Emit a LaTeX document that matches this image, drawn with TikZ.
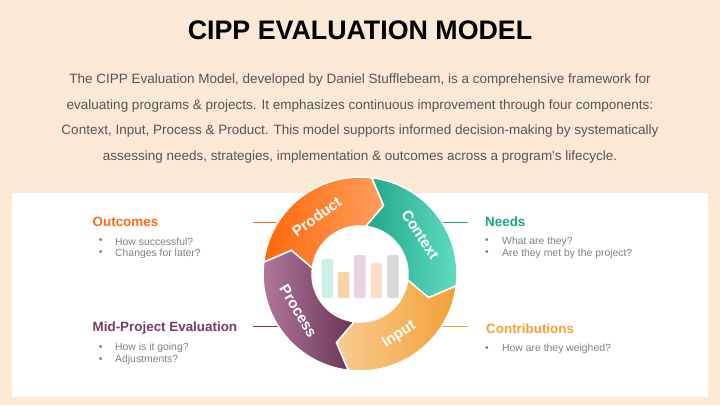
\documentclass[tikz,border=0pt]{standalone}
\usepackage{fontspec}
\setmainfont{Liberation Sans}
\definecolor{bg}{HTML}{FCE9D5}
\definecolor{paratext}{HTML}{555555}
\definecolor{bullettext}{HTML}{808080}
\definecolor{cOut}{HTML}{FF6A13}
\definecolor{cNeed}{HTML}{1AA585}
\definecolor{cMid}{HTML}{7A3A62}
\definecolor{cCon}{HTML}{F5A030}
\definecolor{prodL}{HTML}{FF6808}
\definecolor{prodR}{HTML}{FF9E5E}
\definecolor{contL}{HTML}{22A585}
\definecolor{contR}{HTML}{62E0C8}
\definecolor{inpL}{HTML}{F8CC92}
\definecolor{inpR}{HTML}{F2A035}
\definecolor{procL}{HTML}{B47DA0}
\definecolor{procR}{HTML}{6A3356}
\definecolor{barA}{HTML}{C9F1E8}
\definecolor{barB}{HTML}{F9D4A3}
\definecolor{barC}{HTML}{E7D4E0}
\definecolor{barD}{HTML}{FDDDC9}
\definecolor{barE}{HTML}{D9D9D9}
\newcommand\ringseg[3]{%
  \pgfmathsetmacro\sa{#1}%
  \pgfmathsetmacro\ea{#1-90}%
  \pgfmathsetmacro\ta{#1-102}%
  \pgfmathsetmacro\na{#1-12}%
  \path[segstyle, left color=#2, right color=#3]
    (\sa:97) arc[start angle=\sa, end angle=\ea, radius=97]
    -- (\ta:72.5) -- (\ea:48)
    arc[start angle=\ea, end angle=\sa, radius=48]
    -- (\na:72.5) -- cycle;}
\begin{document}
\begin{tikzpicture}[x=1pt,y=1pt,
  para/.style={text=paratext, font=\fontsize{13.5}{15}\selectfont, inner sep=0pt},
  head/.style={font=\fontsize{13.4}{15}\selectfont\bfseries, anchor=west, inner sep=0pt},
  bul/.style={text=bullettext, font=\fontsize{10.4}{12}\selectfont, inner sep=0pt},
  btext/.style={bul, anchor=west},
  segstyle/.style={draw=white, line width=1.5pt, line join=miter},
  seglabel/.style={text=white, font=\fontsize{15}{17}\selectfont\bfseries, inner sep=0pt},
  conn/.style={line width=1.2pt}]
\useasboundingbox (0,0) rectangle (720,405);
\fill[bg] (0,0) rectangle (720,405);
\fill[white] (12,8) rectangle (708,212);

\node[font=\fontsize{26.8}{30}\selectfont\bfseries, inner sep=0pt] (title) at (360,375) {CIPP EVALUATION MODEL};

\node[para] (p1) at (360,324.5) {The CIPP Evaluation Model, developed by Daniel Stufflebeam, is a comprehensive framework for};
\node[para] (p2) at (360,299) {evaluating programs \& projects. It emphasizes continuous improvement through four components:};
\node[para] (p3) at (360,273.5) {Context, Input, Process \& Product. This model supports informed decision-making by systematically};
\node[para] (p4) at (360,248) {assessing needs, strategies, implementation \& outcomes across a program\textquotesingle s lifecycle.};

% connector lines (behind the ring)
\coordinate (oL) at (253,182.3); \coordinate (oR) at (310,182.3);
\coordinate (nL) at (410,182.3); \coordinate (nR) at (468,182.3);
\coordinate (mL) at (253,78.3);  \coordinate (mR) at (310,78.3);
\coordinate (cL) at (410,78.3);  \coordinate (cR) at (468,78.3);
\draw[conn, cOut] (oL) -- (oR);
\draw[conn, cNeed] (nL) -- (nR);
\draw[conn, cMid] (mL) -- (mR);
\draw[conn, cCon] (cL) -- (cR);

% ring
\begin{scope}[shift={(360,131)}]
  \ringseg{173}{prodL}{prodR}
  \ringseg{83}{contL}{contR}
  \ringseg{-7}{inpL}{inpR}
  \ringseg{-97}{procL}{procR}
  \node[seglabel, rotate=36] (lprod) at (127:72) {Product};
  \node[seglabel, rotate=-57] (lcont) at (33:72) {Context};
  \node[seglabel, rotate=33] (linp) at (-57:72) {Input};
  \node[seglabel, rotate=-59] (lproc) at (-149:72) {Process};
\end{scope}

% bars
\fill[barA, rounded corners=1.5pt] (321.7,107) rectangle (333.2,146);
\fill[barB, rounded corners=1.5pt] (337.9,107) rectangle (349.4,133);
\fill[barC, rounded corners=1.5pt] (354.2,107) rectangle (365.7,150);
\fill[barD, rounded corners=1.5pt] (370.6,107) rectangle (382.1,142);
\fill[barE, rounded corners=1.5pt] (387.0,107) rectangle (398.5,150);

% left texts
\node[head, text=cOut] (hout) at (92.5,183) {Outcomes};
\node[bul] (bo1) at (100.7,163.5) {•};
\node[btext] (to1) at (115,163.5) {How successful?};
\node[bul] (bo2) at (100.7,151.5) {•};
\node[btext] (to2) at (115,151.5) {Changes for later?};

\node[head, text=cMid] (hmid) at (92.5,77) {Mid-Project Evaluation};
\node[bul] (bm1) at (100.7,57) {•};
\node[btext] (tm1) at (115,57) {How is it going?};
\node[bul] (bm2) at (100.7,45) {•};
\node[btext] (tm2) at (115,45) {Adjustments?};

% right texts
\node[head, text=cNeed] (hneed) at (485,183) {Needs};
\node[bul] (bn1) at (487,163.5) {•};
\node[btext] (tn1) at (502,163.5) {What are they?};
\node[bul] (bn2) at (487,151.5) {•};
\node[btext] (tn2) at (502,151.5) {Are they met by the project?};

\node[head, text=cCon] (hcon) at (486,76) {Contributions};
\node[bul] (bc1) at (487,56) {•};
\node[btext] (tc1) at (502,56) {How are they weighed?};
\end{tikzpicture}
\end{document}
